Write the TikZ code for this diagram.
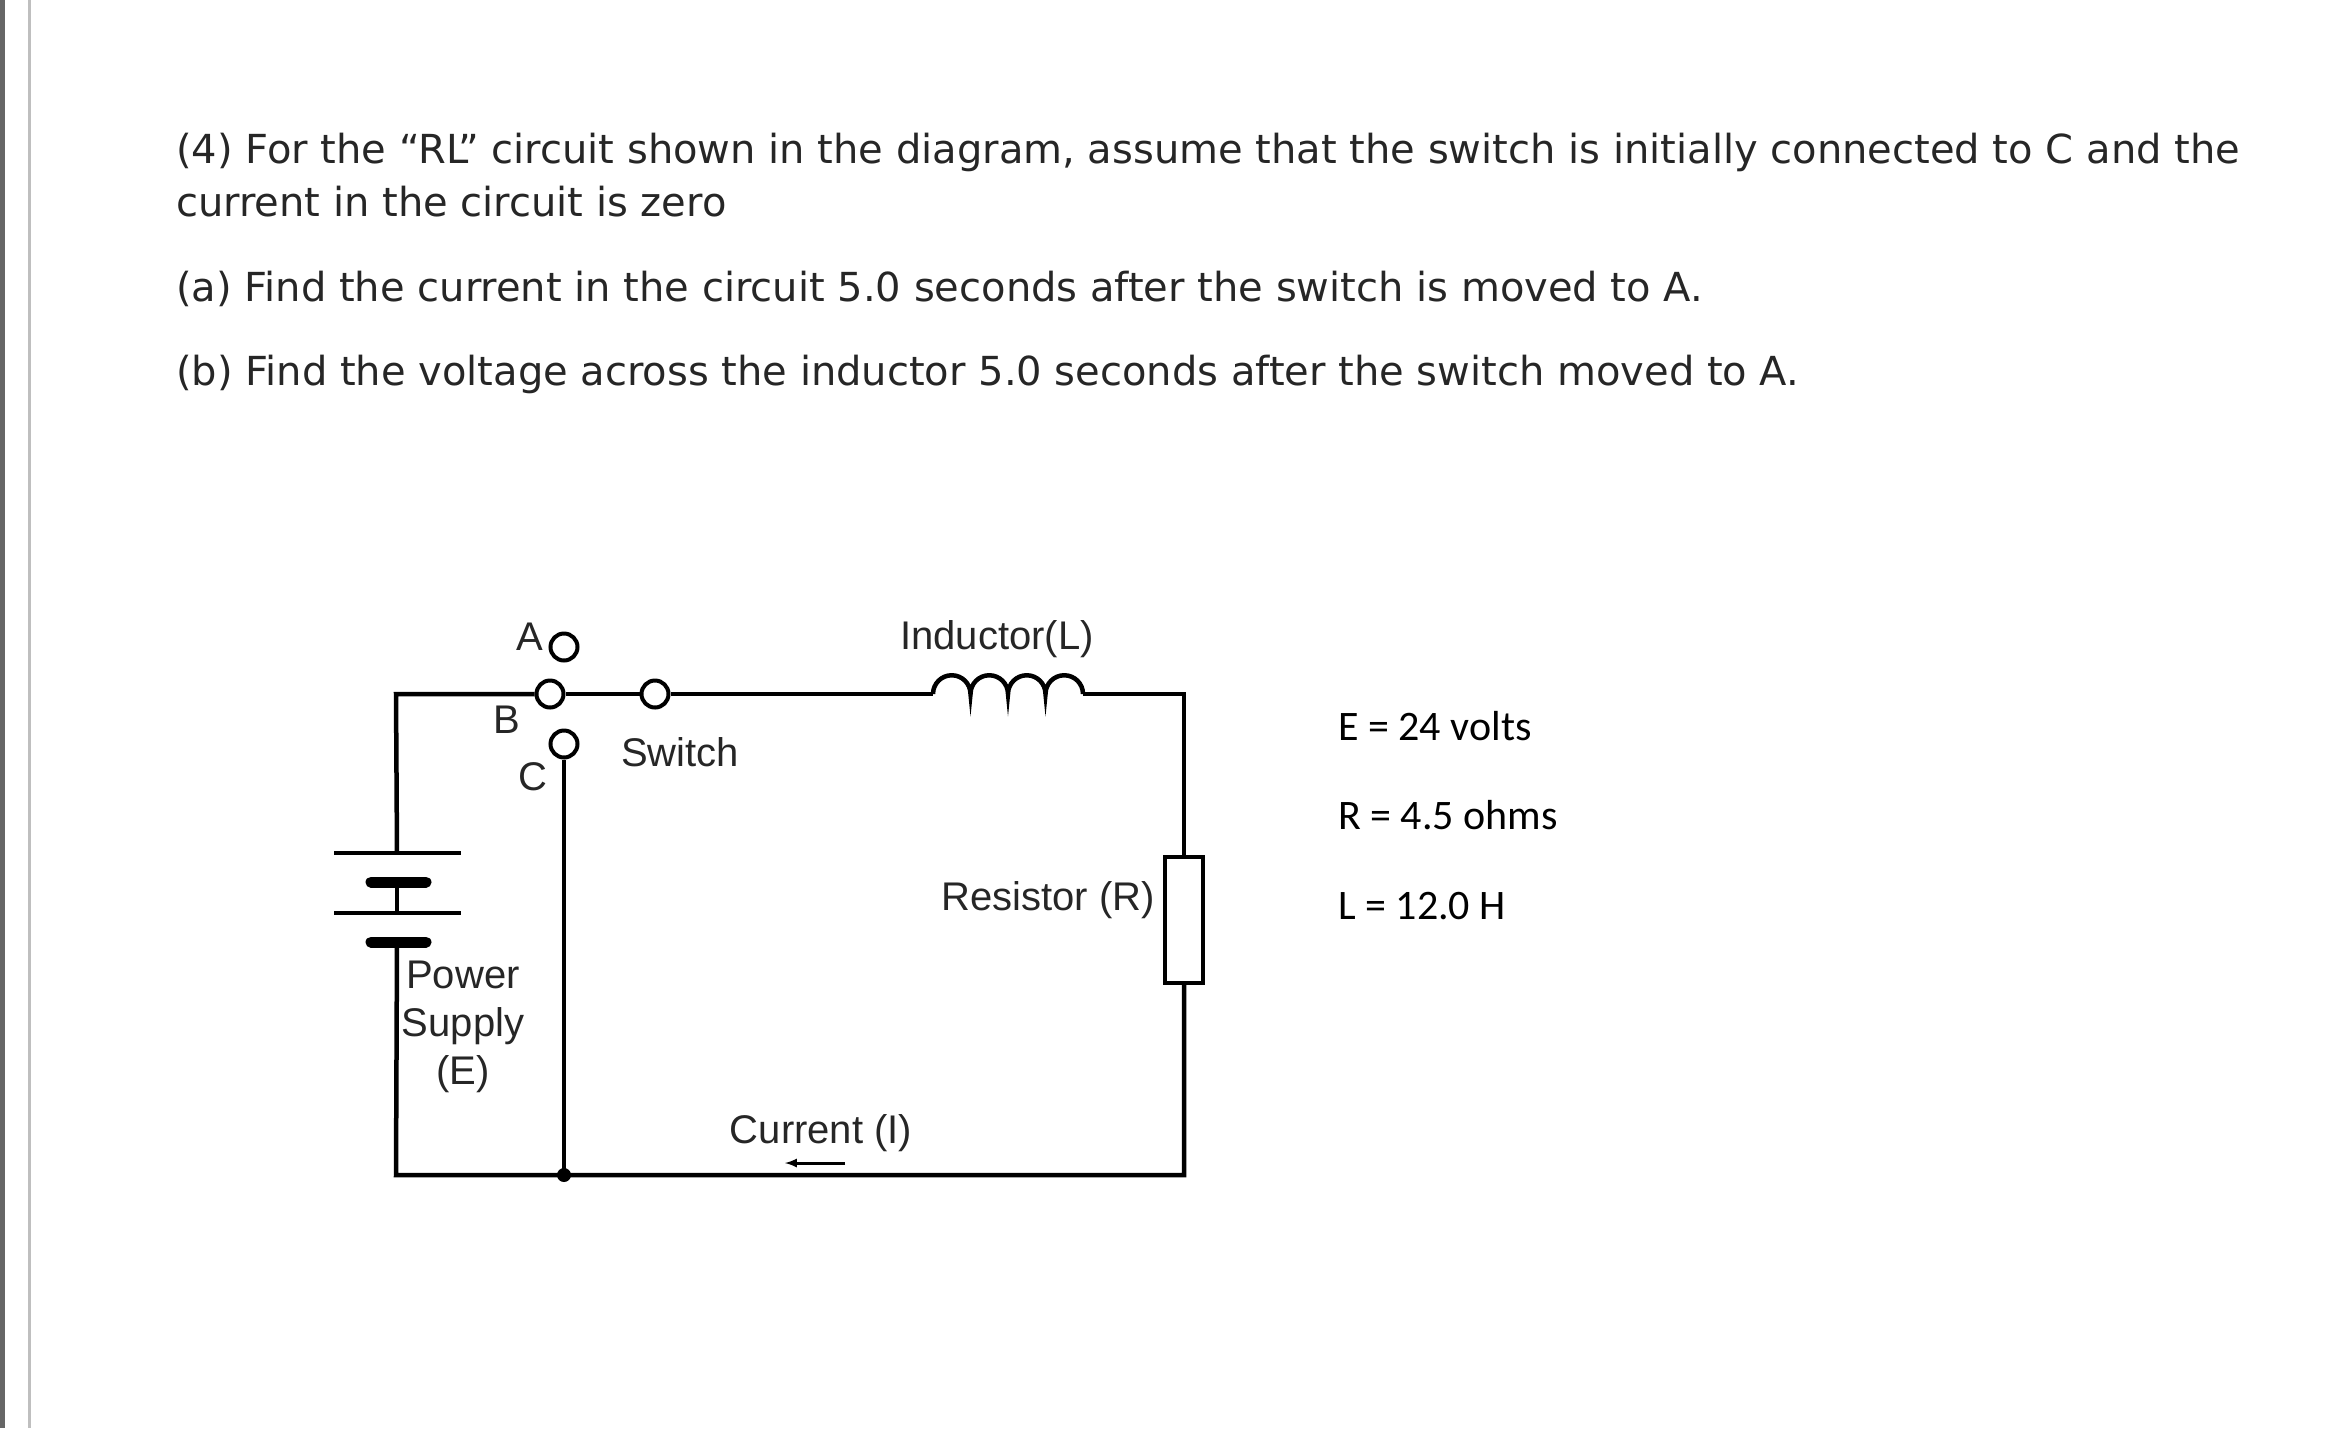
\documentclass[tikz,border=0pt]{standalone}
\usepackage{fontspec}
\setmainfont{DejaVu Sans}
\newfontfamily\arialf{Liberation Sans}
\newfontfamily\calf{Carlito}
\begin{document}
\begin{tikzpicture}[x=1pt,y=-1pt,
 wire/.style={line width=4.5pt},
 term/.style={circle,draw,line width=4pt,fill=white,minimum size=27pt,inner sep=0pt},
 hdr/.style={anchor=base west,inner sep=0pt,font=\fontsize{40}{46}\selectfont,text=black!85},
 lab/.style={inner sep=0pt,font=\arialf\fontsize{40}{48}\selectfont,text=black!85},
 val/.style={anchor=base west,inner sep=0pt,font=\calf\fontsize{42}{48}\selectfont}]
\useasboundingbox (0,0) rectangle (2347,1428);
\fill[black!60] (0,0) rectangle (5,1428);
\fill[black!25] (28,0) rectangle (31,1428);
\node[hdr] (h1) at (176,163) {(4) For the “RL” circuit shown in the diagram, assume that the switch is initially connected to C and the};
\node[hdr] (h2) at (176,216) {current in the circuit is zero};
\node[hdr] (ha) at (176,301) {(a) Find the current in the circuit 5.0 seconds after the switch is moved to A.};
\node[hdr] (hb) at (176,385) {(b) Find the voltage across the inductor 5.0 seconds after the switch moved to A.};
% coordinates
\coordinate (tl) at (396,694);
\coordinate (tr) at (1184,694);
\coordinate (br) at (1184,1175);
\coordinate (bl) at (396,1175);
\coordinate (j) at (564,1175);
\coordinate (bt1) at (397,853);
\coordinate (bt2) at (397,942);
\coordinate (li) at (933,694);
\coordinate (lo) at (1083,694);
\node[term] (B) at (550,694) {};
\node[term] (S) at (655,694) {};
\node[term] (A) at (564,647) {};
\node[term] (C) at (564,744) {};
\node[draw,line width=4pt,fill=white,minimum width=38pt,minimum height=126pt,inner sep=0pt] (R) at (1184,920) {};
% wires
\draw[wire] (bt1) -- (tl) -- (B);
\draw[wire] (B) -- (S);
\draw[wire] (S) -- (li);
\draw[wire] (lo) -- (tr) -- (R.north);
\draw[wire] (R.south) -- (br) -- (bl) -- (bt2);
\draw[wire] (C) -- (j);
\fill (j) circle (7pt);
% inductor
\draw[line width=4.5pt] (li) \foreach \i in {0,1,2,3} { arc[start angle=180,end angle=0,radius=18.75pt] };
% battery
\draw[line width=4pt] (334,853) -- (461,853);
\draw[line width=4pt] (334,913) -- (461,913);
\draw[line width=11pt,line cap=round] (371,882) -- (426,882);
\draw[line width=11pt,line cap=round] (371,942) -- (426,942);
\draw[line width=4pt] (397,882) -- (397,913);
% labels
\node[lab] (la) at (530,637) {A};
\node[lab] (lb) at (507,720) {B};
\node[lab] (lc) at (533,777) {C};
\node[lab] (lsw) at (680,752) {Switch};
\node[lab] (lind) at (997,639) {Inductor(L)};
\node[lab,anchor=east] (lres) at (1155,900) {Resistor (R)};
\node[lab,align=center] (lps) at (463,1027) {Power\\Supply\\(E)};
\node[lab] (lcur) at (821,1133) {Current (I)};
\coordinate (a1) at (845,1163);
\coordinate (a2) at (785,1163);
\draw[line width=3pt,-latex] (a1) -- (a2);
\node[val] (ve) at (1338,740) {E = 24 volts};
\node[val] (vr) at (1338,829) {R = 4.5 ohms};
\node[val] (vl) at (1338,919) {L = 12.0 H};
\end{tikzpicture}
\end{document}
